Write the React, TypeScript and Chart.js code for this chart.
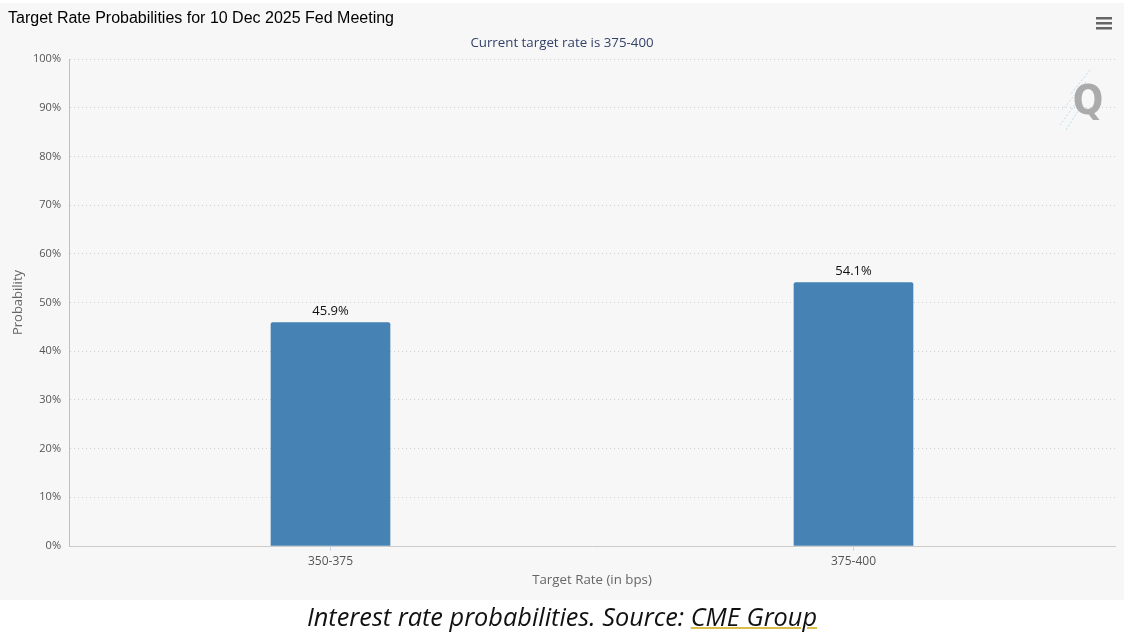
import React, { useEffect, useRef } from "react";
import { Chart, registerables } from "chart.js";

Chart.register(...registerables);

const categories: string[] = ["350-375", "375-400"];
const probabilities: number[] = [45.9, 54.1];
const yTickValues: number[] = [0, 10, 20, 30, 40, 50, 60, 70, 80, 90, 100];
const chartTitle = "Target Rate Probabilities for 10 Dec 2025 Fed Meeting";
const chartSubtitle = "Current target rate is 375-400";
const xAxisTitle = "Target Rate (in bps)";
const yAxisTitle = "Probability";

const decorPlugin = {
  id: "decor",
  afterDraw(chart: any) {
    const ctx = chart.ctx;
    ctx.save();
    // title
    ctx.fillStyle = "#000";
    ctx.font = "16px 'Liberation Sans', Arial, sans-serif";
    ctx.textAlign = "left";
    ctx.textBaseline = "middle";
    ctx.fillText(chartTitle, 8, 19);
    // subtitle
    ctx.fillStyle = "#34426a";
    ctx.font = "13.3px 'Open Sans', sans-serif";
    ctx.textAlign = "center";
    ctx.fillText(chartSubtitle, 562, 43);
    // hamburger menu
    ctx.fillStyle = "#666";
    for (let i = 0; i < 3; i++) {
      ctx.fillRect(1096, 17 + i * 5, 16, 2.5);
    }
    // watermark Q
    ctx.strokeStyle = "rgba(120,190,230,0.5)";
    ctx.lineWidth = 1;
    const streaks = [
      [1090, 70, 1070, 95],
      [1086, 82, 1062, 110],
      [1082, 95, 1060, 125],
      [1080, 108, 1066, 130],
    ];
    streaks.forEach(([x1, y1, x2, y2]) => {
      ctx.setLineDash([2, 2]);
      ctx.beginPath();
      ctx.moveTo(x1, y1);
      ctx.lineTo(x2, y2);
      ctx.stroke();
    });
    ctx.setLineDash([]);
    ctx.fillStyle = "#ababab";
    ctx.font = "bold 40px 'DejaVu Sans Condensed', 'DejaVu Sans', sans-serif";
    ctx.textAlign = "center";
    ctx.fillText("Q", 1088, 104);
    ctx.restore();
  },
  afterDatasetsDraw(chart: any) {
    const ctx = chart.ctx;
    const meta = chart.getDatasetMeta(0);
    const data = chart.data.datasets[0].data as number[];
    ctx.save();
    ctx.fillStyle = "#111";
    ctx.font = "13px 'Open Sans', sans-serif";
    ctx.textAlign = "center";
    ctx.textBaseline = "middle";
    meta.data.forEach((bar: any, i: number) => {
      ctx.fillText(data[i].toFixed(1) + "%", bar.x, bar.y - 11);
    });
    ctx.restore();
  },
};

export default function App() {
  const canvasRef = useRef<HTMLCanvasElement | null>(null);

  useEffect(() => {
    if (!canvasRef.current) return;
    const chart = new Chart(canvasRef.current, {
      type: "bar",
      data: {
        labels: categories,
        datasets: [
          {
            data: probabilities,
            backgroundColor: "#4682b4",
            borderRadius: { topLeft: 2, topRight: 2, bottomLeft: 0, bottomRight: 0 },
            borderSkipped: "bottom",
            barThickness: 119,
          },
        ],
      },
      options: {
        animation: false,
        responsive: false,
        maintainAspectRatio: false,
        layout: { padding: { left: 0, right: 9, top: 59, bottom: 0 } },
        plugins: {
          legend: { display: false },
          tooltip: { enabled: false },
          title: { display: false },
        },
        scales: {
          x: {
            afterFit: (scale: any) => {
              scale.height = 54;
            },
            grid: {
              display: true,
              drawOnChartArea: false,
              drawTicks: true,
              tickLength: 5,
              offset: false,
              color: "#ccd6eb",
            },
            border: { display: true, color: "#cccccc", width: 1 },
            ticks: {
              color: "#555",
              font: { family: "'Open Sans', sans-serif", size: 12 },
              padding: 3,
            },
            title: {
              display: true,
              text: xAxisTitle,
              color: "#666",
              font: { family: "'Open Sans', sans-serif", size: 13.3 },
              padding: { top: 0, bottom: 12 },
            },
          },
          y: {
            min: 0,
            max: 100,
            afterFit: (scale: any) => {
              scale.width = 69;
            },
            afterBuildTicks: (scale: any) => {
              scale.ticks = yTickValues.map((v) => ({ value: v }));
            },
            grid: {
              color: "#cfcfcf",
              lineWidth: 1,
              drawTicks: false,
            },
            border: { display: true, color: "#c0c0c0", width: 1, dash: [1, 3] },
            ticks: {
              color: "#555",
              font: { family: "'Open Sans', sans-serif", size: 11 },
              padding: 8,
              callback: (v: any) => v + "%",
            },
            title: {
              display: true,
              text: yAxisTitle,
              color: "#666",
              font: { family: "'Open Sans', sans-serif", size: 13 },
              padding: { top: 10, bottom: 0 },
            },
          },
        },
      },
      plugins: [decorPlugin],
    } as any);
    return () => chart.destroy();
  }, []);

  return (
    <div style={{ position: "absolute", left: 0, top: 0, width: 1124, height: 632, background: "#fff" }}>
      <div style={{ position: "absolute", left: 0, top: 3, width: 1124, height: 597, background: "#f7f7f7" }} />
      <canvas
        ref={canvasRef}
        width={1124}
        height={600}
        style={{ position: "absolute", left: 0, top: 0, width: 1124, height: 600 }}
      />
      <div
        style={{
          position: "absolute",
          left: 0,
          top: 601,
          width: 1124,
          height: 31,
          lineHeight: "31px",
          textAlign: "center",
          fontFamily: "'Open Sans', sans-serif",
          fontStyle: "italic",
          fontSize: 25.3,
          color: "#111",
          whiteSpace: "nowrap",
        }}
      >
        Interest rate probabilities. Source:{" "}
        <span style={{ textDecoration: "underline", textDecorationColor: "#d8bd48", textDecorationThickness: 2 }}>
          CME Group
        </span>
      </div>
    </div>
  );
}
